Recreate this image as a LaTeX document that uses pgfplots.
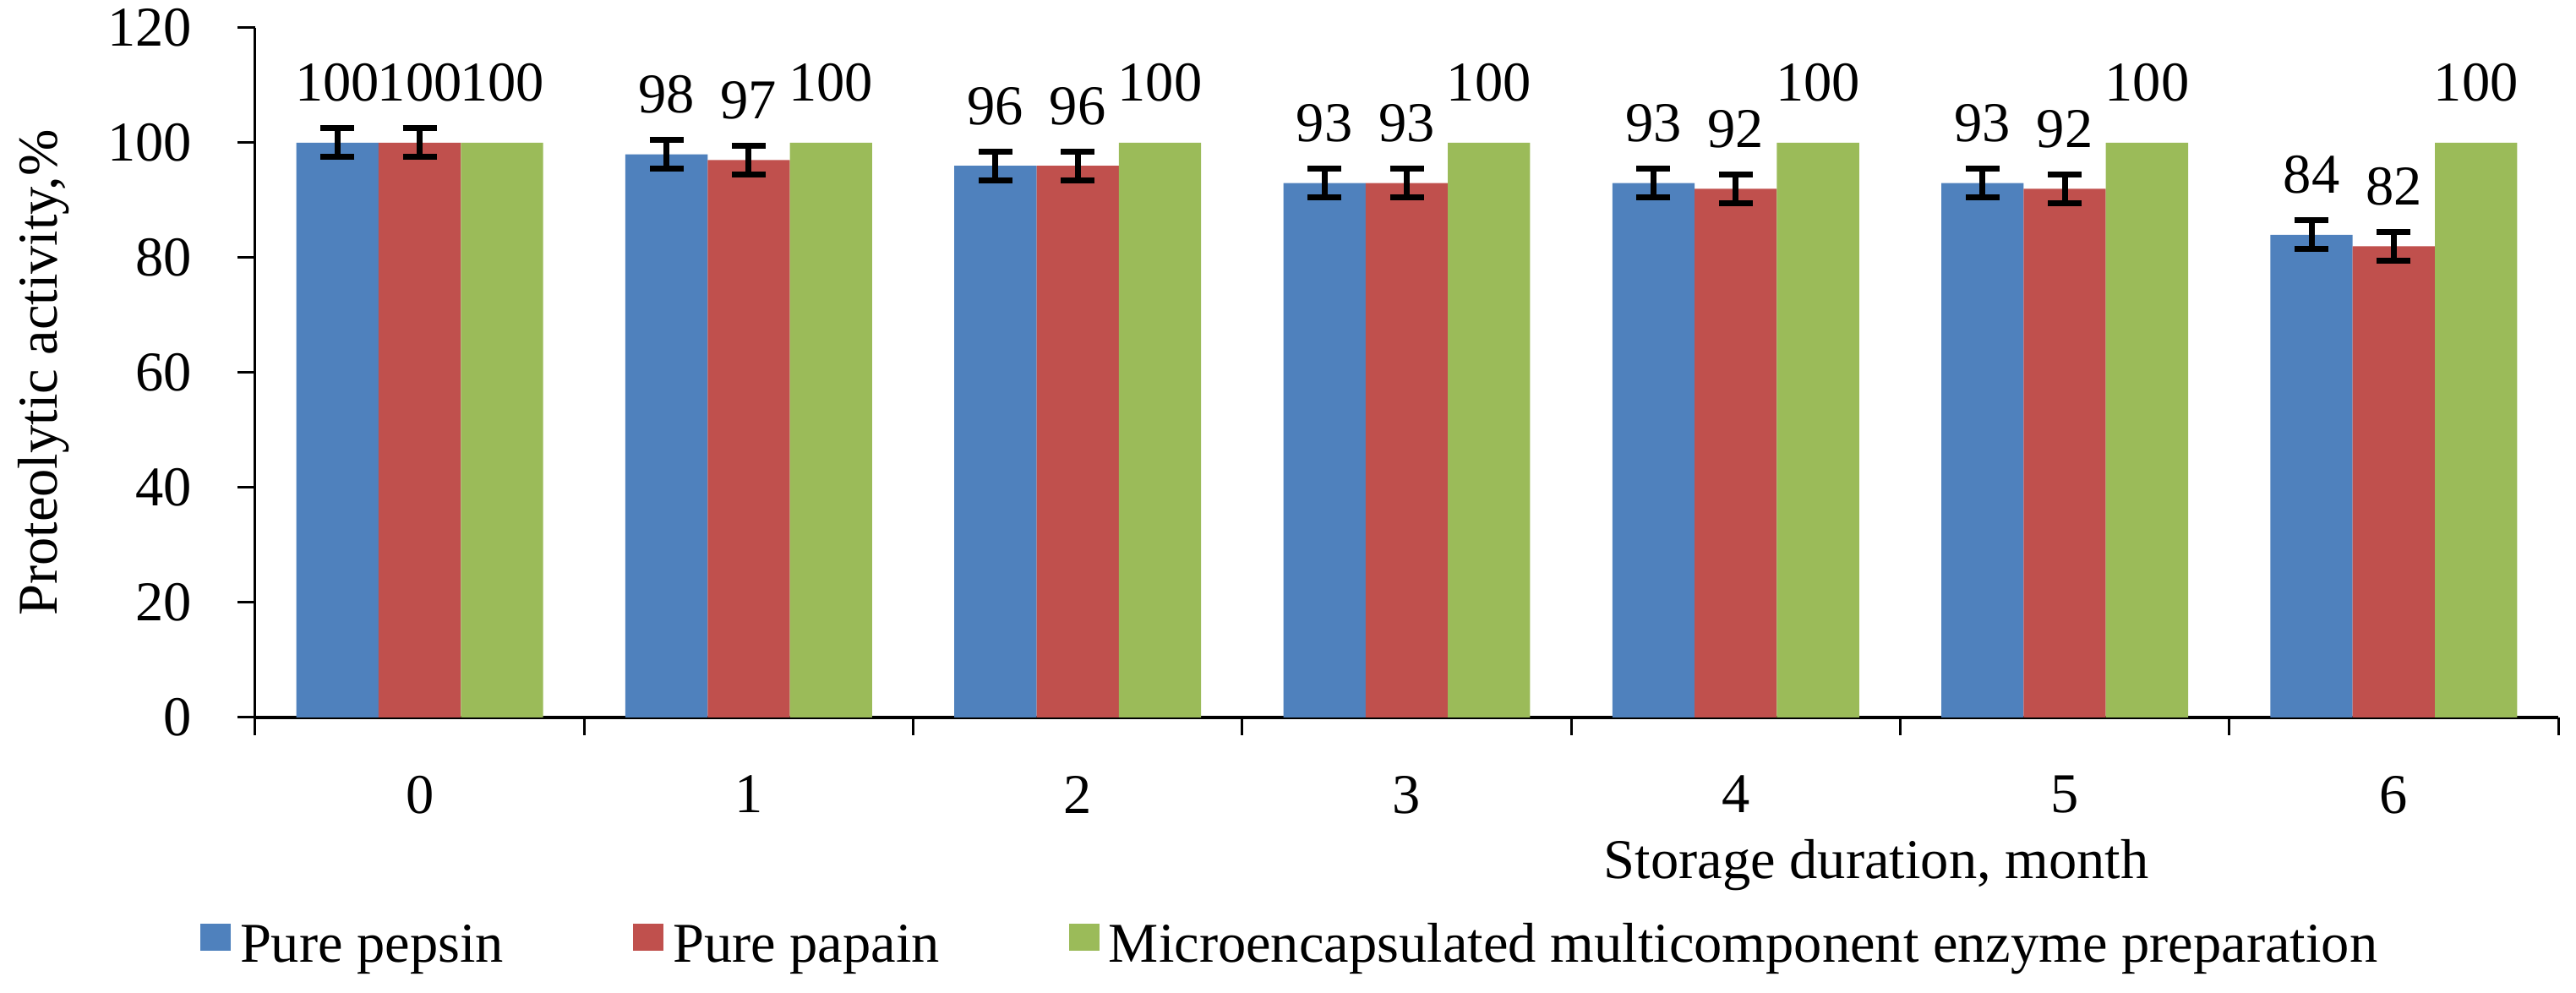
\documentclass[border=0pt]{standalone}
\usepackage{pgfplots}
\pgfplotsset{compat=1.18}
\usepackage{pgfplotstable}
\usepackage{fontspec}
\setmainfont{Liberation Serif}
\definecolor{cblue}{HTML}{4F81BD}
\definecolor{cred}{HTML}{C0504D}
\definecolor{cgreen}{HTML}{9BBB59}
\pgfplotstableread{
x y e
0 100 2.5
1 98 2.5
2 96 2.5
3 93 2.5
4 93 2.5
5 93 2.5
6 84 2.5
}\pepsin
\pgfplotstableread{
x y e
0 100 2.5
1 97 2.5
2 96 2.5
3 93 2.5
4 92 2.5
5 92 2.5
6 82 2.5
}\papain
\pgfplotstableread{
x y
0 100
1 100
2 100
3 100
4 100
5 100
6 100
}\micro
\begin{document}
\begin{tikzpicture}[font=\fontsize{13.3}{16}\selectfont]
\begin{axis}[
  name=ax,
  at={(0,0)}, anchor=south west,
  scale only axis,
  width=545pt, height=163.2pt,
  xmin=-0.5, xmax=6.5,
  ymin=0, ymax=120,
  ytick={0,20,...,120},
  xtick={0,...,6},
  minor xtick={-0.5,0.5,...,6.5},
  major x tick style={draw=none},
  minor x tick style={black, line width=0.6pt},
  major y tick style={black, line width=0.6pt},
  major tick length=4.2pt,
  minor tick length=4.2pt,
  tick align=outside,
  axis lines*=left,
  x axis line style={line width=0.8pt},
  y axis line style={line width=0.6pt},
  /pgf/number format/assume math mode=true,
  yticklabel style={inner sep=0pt, anchor=east, xshift=-10.6pt},
  xticklabel style={inner sep=0pt, anchor=north, yshift=-9.4pt},
  ybar,
  bar width=0.25,
  xlabel={Storage duration, month},
  ylabel={Proteolytic activity,\%},
  xlabel style={at={(axis description cs:0.7039,-0.234)}, anchor=base, inner sep=0pt},
  ylabel style={at={(axis description cs:-0.0862,0.5)}, anchor=base, rotate=0, inner sep=0pt},
  nodes near coords,
  nodes near coords style={anchor=south, inner sep=0pt, yshift=9.5pt, black},
  legend columns=3,
  legend style={draw=none, fill=none, inner sep=0pt, outer sep=0pt,
    at={(axis description cs:-0.02385,-0.3309)}, anchor=west,
    nodes={inner sep=0pt, anchor=base west},
    /tikz/every odd column/.append style={column sep=2.2pt},
    /tikz/every even column/.append style={column sep=30.6pt}},
  legend cell align=left,
  legend image code/.code={\fill[#1] (0pt,2.6pt) rectangle (7.2pt,9pt);},
  error bars/error bar style={line width=1.4pt, black},
  error bars/error mark options={rotate=90, mark size=4pt, line width=1.4pt, black},
]
\addplot[draw=none, fill=cblue, bar shift=-0.25,
  error bars/.cd, y dir=both, y explicit]
  table[x=x, y=y, y error=e] {\pepsin};
\addlegendentry{Pure pepsin}
\addplot[draw=none, fill=cred, bar shift=0,
  error bars/.cd, y dir=both, y explicit]
  table[x=x, y=y, y error=e] {\papain};
\addlegendentry{Pure papain}
\addplot[draw=none, fill=cgreen, bar shift=0.25]
  table[x=x, y=y] {\micro};
\addlegendentry{Microencapsulated multicomponent enzyme preparation}
\end{axis}
\pgfresetboundingbox
\path (-60.4pt,-65.2pt) rectangle (549.2pt,169.8pt);
\end{tikzpicture}
\end{document}
